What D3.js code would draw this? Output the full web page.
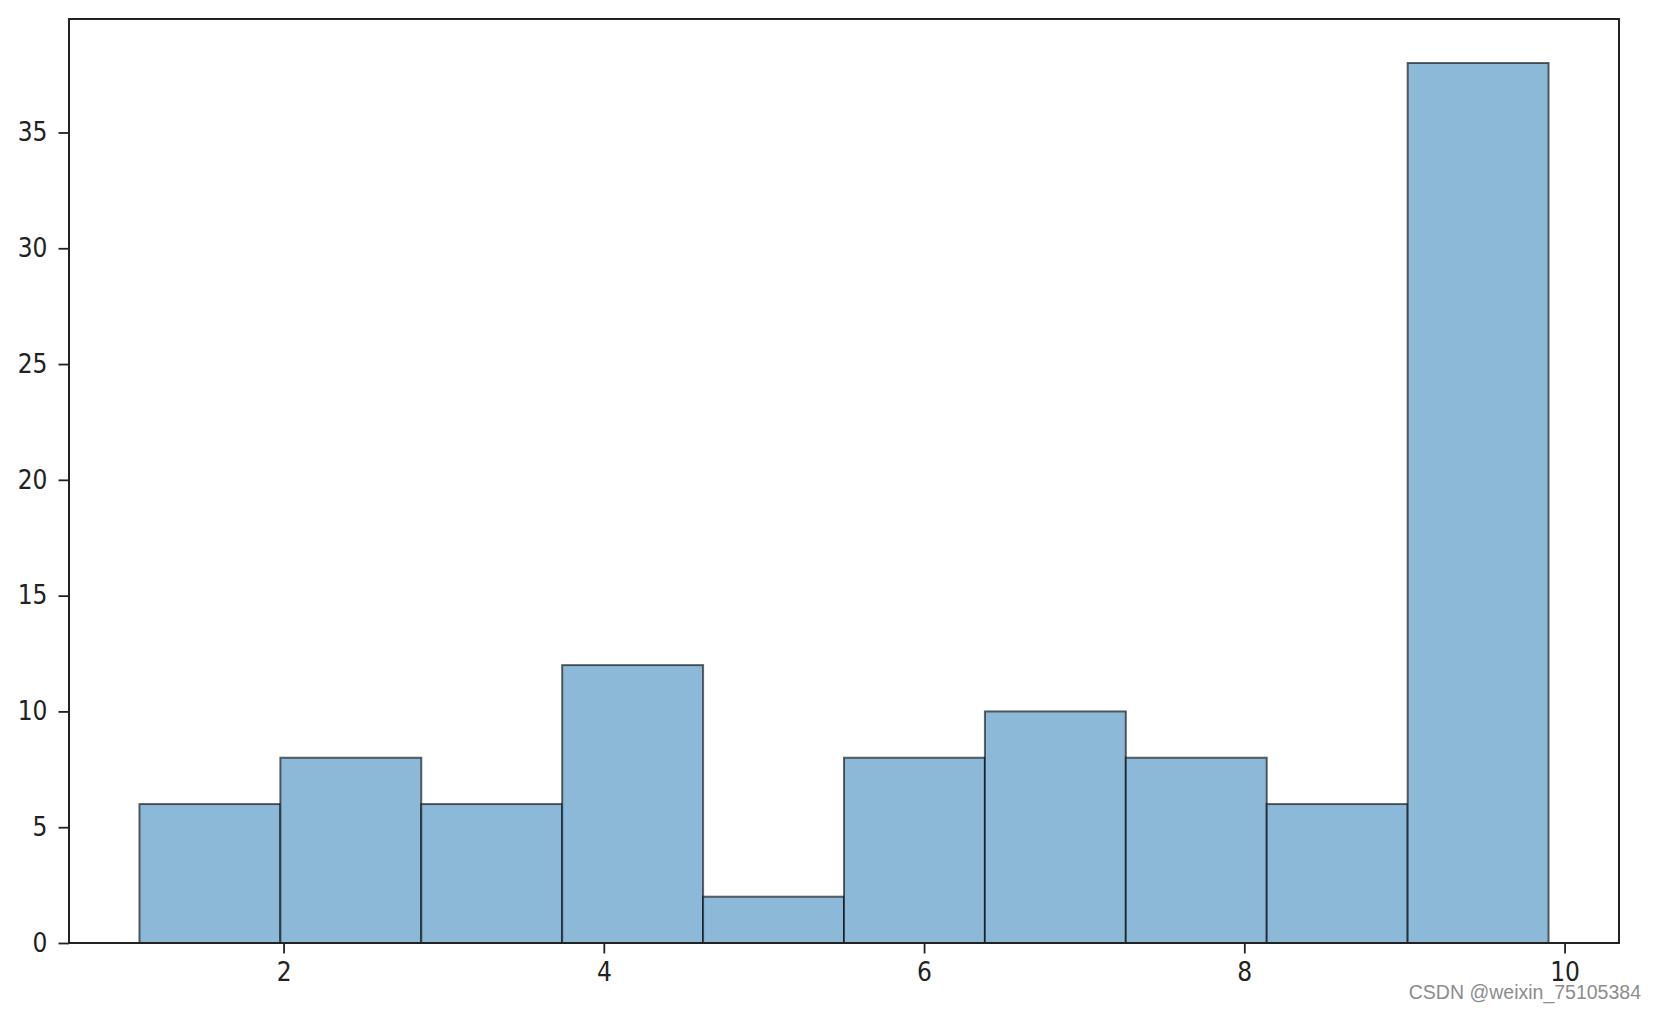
<!DOCTYPE html>
<html>
<head>
<meta charset="utf-8">
<script src="https://cdn.jsdelivr.net/npm/d3@7"></script>
<style>
  body { margin: 0; background: #fff; }
  .tick text { font-family: "DejaVu Sans Condensed", "Liberation Sans", sans-serif; }
</style>
</head>
<body>
<div id="chart"></div>
<script>
// histogram bins (edges) and counts
var binEdges = [1.1, 1.98, 2.86, 3.74, 4.62, 5.5, 6.38, 7.26, 8.14, 9.02, 9.9];
var counts = [6, 8, 6, 12, 2, 8, 10, 8, 6, 38];
var xTicks = [2, 4, 6, 8, 10];
var yTicks = [0, 5, 10, 15, 20, 25, 30, 35];

var svg = d3.select("#chart").append("svg").attr("width", 1657).attr("height", 1011),
    plotL = 69, plotT = 19, plotR = 1619, plotB = 943;

var bins = counts.map(function(c, i) { return { x0: binEdges[i], x1: binEdges[i + 1], n: c }; });

// matplotlib style 5% margins
var span = binEdges[binEdges.length - 1] - binEdges[0];
var xScale = d3.scaleLinear()
    .domain([binEdges[0] - span * 0.05, binEdges[binEdges.length - 1] + span * 0.05])
    .range([plotL, plotR]);
var yScale = d3.scaleLinear()
    .domain([0, d3.max(counts) * 1.05])
    .range([plotB, plotT]);

svg.append("g")
   .selectAll("rect")
   .data(bins)
   .enter().append("rect")
   .attr("x", function(d) { return xScale(d.x0); })
   .attr("y", function(d) { return yScale(d.n); })
   .attr("width", function(d) { return xScale(d.x1) - xScale(d.x0); })
   .attr("height", function(d) { return plotB - yScale(d.n); })
   .attr("fill", "#8db9d9")
   .attr("stroke", "rgba(0,0,0,0.6)")
   .attr("stroke-width", 2);

var xAxis = svg.append("g")
   .attr("transform", "translate(0," + plotB + ")")
   .call(d3.axisBottom(xScale).tickValues(xTicks).tickSize(10.5).tickPadding(9).tickSizeOuter(0));

var yAxis = svg.append("g")
   .attr("transform", "translate(" + plotL + ",0)")
   .call(d3.axisLeft(yScale).tickValues(yTicks).tickSize(10.5).tickPadding(11).tickSizeOuter(0));

[xAxis, yAxis].forEach(function(ax) {
  ax.select(".domain").remove();
  ax.selectAll(".tick line").attr("stroke", "#222").attr("stroke-width", 1.8);
  ax.selectAll(".tick text").attr("font-size", "26px").attr("fill", "#222");
});

// frame
svg.append("rect")
   .attr("x", plotL).attr("y", plotT)
   .attr("width", plotR - plotL).attr("height", plotB - plotT)
   .attr("fill", "none")
   .attr("stroke", "#222")
   .attr("stroke-width", 2);

// watermark
svg.append("text")
   .attr("x", 1641)
   .attr("y", 999)
   .attr("text-anchor", "end")
   .attr("font-family", "Liberation Sans, Arial, sans-serif")
   .attr("font-size", "19.5px")
   .attr("fill", "#8c8c8c")
   .text("CSDN @weixin_75105384");
</script>
</body>
</html>
